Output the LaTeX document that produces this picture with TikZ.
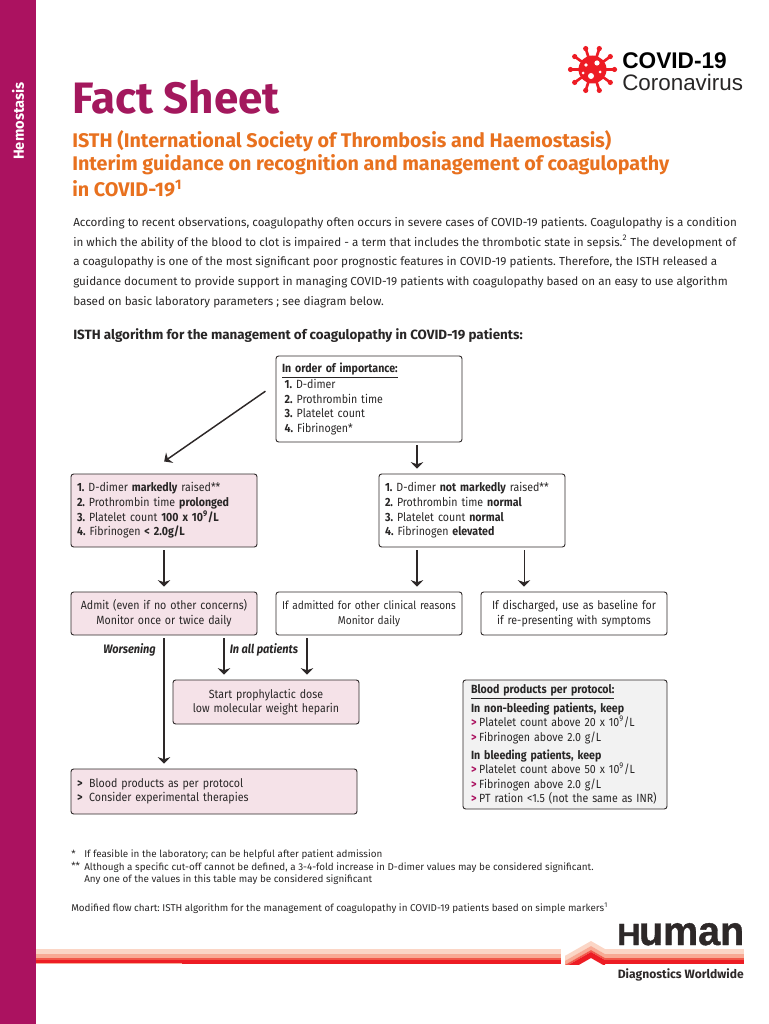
\documentclass[tikz,border=0pt]{standalone}
\usepackage{fontspec}
\setmainfont{Fira Sans}
\newfontfamily\boxfam[FakeStretch=0.895]{Fira Sans}
\newfontfamily\logofont{Liberation Sans}
\newfontfamily\humanfont[FakeStretch=0.97,FakeBold=1]{Liberation Sans}
\newfontfamily\humanhfont[FakeStretch=1.05,FakeBold=1]{Liberation Sans}
\usetikzlibrary{positioning,arrows.meta}
\definecolor{sidebar}{RGB}{171,18,96}
\definecolor{factred}{RGB}{163,24,93}
\definecolor{headorange}{RGB}{232,113,31}
\definecolor{boxpink}{RGB}{245,226,232}
\definecolor{boxgray}{RGB}{242,242,242}
\definecolor{boxline}{RGB}{45,40,40}
\definecolor{inktext}{RGB}{40,38,38}
\definecolor{stripea}{RGB}{251,214,198}
\definecolor{stripeb}{RGB}{248,170,148}
\definecolor{stripec}{RGB}{241,90,74}
\definecolor{striped}{RGB}{237,28,36}
\newcommand{\mk}{\textcolor{inktext}{\textbf{>}}\hspace{5pt}}
\newcommand{\mkred}{\textcolor{sidebar}{\textbf{>}}\hspace{2pt}}
\newcommand{\tenn}{10\textsuperscript{9}}
\tikzset{
  x=0.75pt,y=-0.75pt,
  flow/.style={line width=1.1pt,draw=boxline,-{Stealth[length=5pt,width=9.5pt,inset=1.6pt]},shorten <=2pt,shorten >=3.6pt},
  thinflow/.style={flow,line width=0.7pt},
  box/.style={draw=boxline,line width=0.7pt,rounded corners=2pt,inner xsep=4.5pt,inner ysep=2pt,text=inktext,font=\boxfam\fontsize{8.9}{10.95}\selectfont},
  pinkbox/.style={box,fill=boxpink},
  graybox/.style={box,fill=boxgray},
  size/.style 2 args={minimum width=#1*0.75pt,minimum height=#2*0.75pt,text width=#1*0.75pt-9pt},
  lab/.style={text=inktext,font=\boxfam\fontsize{9.2}{10.9}\selectfont\itshape\bfseries,inner sep=0pt},
  foot/.style={text=inktext,anchor=north west,align=left,inner sep=0pt,font=\fontsize{7.4}{9.1}\selectfont},
  head/.style={text=headorange,anchor=west,inner sep=0pt,font=\fontsize{14.8}{18}\selectfont\bfseries}
}
\begin{document}
\frenchspacing
\begin{tikzpicture}
  \useasboundingbox (0,0) rectangle (768,1024);
  \fill[sidebar] (0,0) rectangle (36,1024);
  \node[rotate=90,text=white,inner sep=0pt,font=\fontsize{11}{12}\selectfont\bfseries] (side) at (18,121) {Hemostasis};
  \node[text=factred,anchor=west,inner sep=0pt,font=\fontsize{33}{36}\selectfont\bfseries] (fact) at (72,97) {Fact Sheet};
  \node[head] (h1) at (72,141) {ISTH (International Society of Thrombosis and Haemostasis)};
  \node[head] (h2) at (72,165) {Interim guidance on recognition and management of coagulopathy};
  \node[head] (h3) at (72,189) {in COVID-19\textsuperscript{1}};
  \node[text=inktext,anchor=north west,align=left,inner sep=0pt,font=\fontsize{8.74}{14.75}\selectfont] (intro) at (73,217) {According to recent observations, coagulopathy often occurs in severe cases of COVID-19 patients. Coagulopathy is a condition\\in which the ability of the blood to clot is impaired - a term that includes the thrombotic state in sepsis.\textsuperscript{2} The development of\\a coagulopathy is one of the most significant poor prognostic features in COVID-19 patients. Therefore, the ISTH released a\\guidance document to provide support in managing COVID-19 patients with coagulopathy based on an easy to use algorithm\\based on basic laboratory parameters ; see diagram below.};
  \node[text=inktext,anchor=west,inner sep=0pt,font=\fontsize{10.05}{12}\selectfont\bfseries] (algo) at (73,336) {ISTH algorithm for the management of coagulopathy in COVID-19 patients:};
  % flow chart boxes
  \node[box,size={186}{86},align=left] (order) at (369,399) {\textbf{\underline{In order of importance:}}\\[1pt]\hspace{2pt}\textbf{1.} D-dimer\\\hspace{2pt}\textbf{2.} Prothrombin time\\\hspace{2pt}\textbf{3.} Platelet count\\\hspace{2pt}\textbf{4.} Fibrinogen*};
  \node[pinkbox,size={186}{73},align=left] (raised) at (164,510.5) {\textbf{1.} D-dimer \textbf{markedly} raised**\\\textbf{2.} Prothrombin time \textbf{prolonged}\\\textbf{3.} Platelet count \textbf{100 x \tenn/L}\\\textbf{4.} Fibrinogen \textbf{< 2.0g/L}};
  \node[box,size={186}{73},align=left] (normal) at (472,510.5) {\textbf{1.} D-dimer \textbf{not markedly} raised**\\\textbf{2.} Prothrombin time \textbf{normal}\\\textbf{3.} Platelet count \textbf{normal}\\\textbf{4.} Fibrinogen \textbf{elevated}};
  \node[pinkbox,size={186}{43},align=center] (admit) at (164,613.5) {Admit (even if no other concerns)\\Monitor once or twice daily};
  \node[box,size={186}{43},align=center,inner xsep=1pt,text width=137.5pt,font=\boxfam\fontsize{8.5}{10.95}\selectfont] (monitor) at (369,613.5) {If admitted for other clinical reasons\\Monitor daily};
  \node[box,size={186}{43},align=center] (discharge) at (574,613.5) {If discharged, use as baseline for\\if re-presenting with symptoms};
  \node[pinkbox,size={186}{44},align=center] (heparin) at (266,702) {Start prophylactic dose\\low molecular weight heparin};
  \node[pinkbox,size={286}{45},align=left] (blood) at (214,791.5) {\mk Blood products as per protocol\\\mk Consider experimental therapies};
  \node[graybox,size={204}{129},align=left,inner xsep=6pt,text width=141pt] (protocol) at (565,744.5) {\textbf{\underline{Blood products per protocol:}}\\[1.8pt]\textbf{In non-bleeding patients, keep}\\\mkred Platelet count above 20 x \tenn/L\\\mkred Fibrinogen above 2.0 g/L\\[2.5pt]\textbf{In bleeding patients, keep}\\\mkred Platelet count above 50 x \tenn/L\\\mkred Fibrinogen above 2.0 g/L\\\mkred PT ration <1.5 (not the same as INR)};
  % arrow columns
  \coordinate (colA) at (164,0); \coordinate (colB) at (224,0); \coordinate (colC) at (307,0); \coordinate (colD) at (417,0); \coordinate (colE) at (524,0);
  \draw[flow,shorten <=9.2pt,shorten >=15.9pt] (order.171.4) -- (raised.115.6);
  \draw[flow] (order.south -| colD) -- (normal.north -| colD);
  \draw[flow] (raised) -- (admit);
  \draw[flow] (normal.south -| colD) -- (monitor.north -| colD);
  \draw[thinflow] (normal.south -| colE) -- (discharge.north -| colE);
  \draw[flow] (admit) -- (blood.north -| colA);
  \draw[flow] (admit.south -| colB) -- (heparin.north -| colB);
  \draw[flow] (monitor.south -| colC) -- (heparin.north -| colC);
  \node[lab,anchor=west] (worse) at (103,650) {Worsening};
  \node[lab,anchor=west] (allpat) at (229.5,650) {In all patients};
  % footnotes
  \node[foot] (fn1) at (71,850) {*\\**\\\phantom{**}};
  \node[foot] (fn2) at (84,850) {If feasible in the laboratory; can be helpful after patient admission\\Although a specific cut-off cannot be defined, a 3-4-fold increase in D-dimer values may be considered significant.\\Any one of the values in this table may be considered significant};
  \node[foot] (fn3) at (71,903) {Modified flow chart: ISTH algorithm for the management of coagulopathy in COVID-19 patients based on simple markers\textsuperscript{1}};
  % covid logo
  \foreach \a in {0,36,...,324} {
    \draw[striped,line width=2pt] (592.5,69.5) -- ++(\a:21);
    \fill[striped] (592.5,69.5) ++(\a:22) circle (2.6);
  }
  \fill[striped] (592.5,69.5) circle (14);
  \fill[white] (597,63) circle (2.6) (586,65) circle (1.8) (591,76) circle (3) (600,72) circle (1.5) (583,73) circle (1.5);
  \node[anchor=west,inner sep=0pt,text=black,font=\logofont\fontsize{17}{18}\selectfont\bfseries] (covid) at (622,61) {COVID-19};
  \node[anchor=west,inner sep=0pt,text=inktext,font=\logofont\fontsize{16.8}{18}\selectfont] (corona) at (622,82) {Coronavirus};
  % human logo stripes
  \foreach \t/\b/\c in {949/954/stripea,954/958/stripeb,958/960/stripec,960/964/striped} {
    \fill[\c] (36,\t) rectangle (561,\b);
    \fill[\c] (605,\t) rectangle (744,\b);
  }
  \fill[stripeb] (36,963.3) rectangle (182,964.3);
  \begin{scope}
    \clip (565,930) rectangle (605,964);
    \foreach \t/\b/\c in {0/5/stripea,5/9/stripeb,9/11/stripec,11/17/striped} {
      \fill[\c] (565,955.8+\t) -- (591,941+\t) -- (605,949+\t) -- (605,949+\b) -- (591,941+\b) -- (565,955.8+\b) -- cycle;
    }
  \end{scope}
  \node[anchor=base west,inner sep=0pt,text=boxline,font=\humanhfont\fontsize{23}{24}\selectfont\bfseries] (humanh) at (617,945) {H};
  \node[anchor=base east,inner sep=0pt,text=boxline,font=\humanfont\fontsize{30.5}{32}\selectfont\bfseries] (human) at (744.5,945) {uman};
  \node[anchor=east,inner sep=0pt,text=boxline,font=\fontsize{9.05}{10}\selectfont\bfseries] (world) at (744,975) {Diagnostics Worldwide};
\end{tikzpicture}
\end{document}
